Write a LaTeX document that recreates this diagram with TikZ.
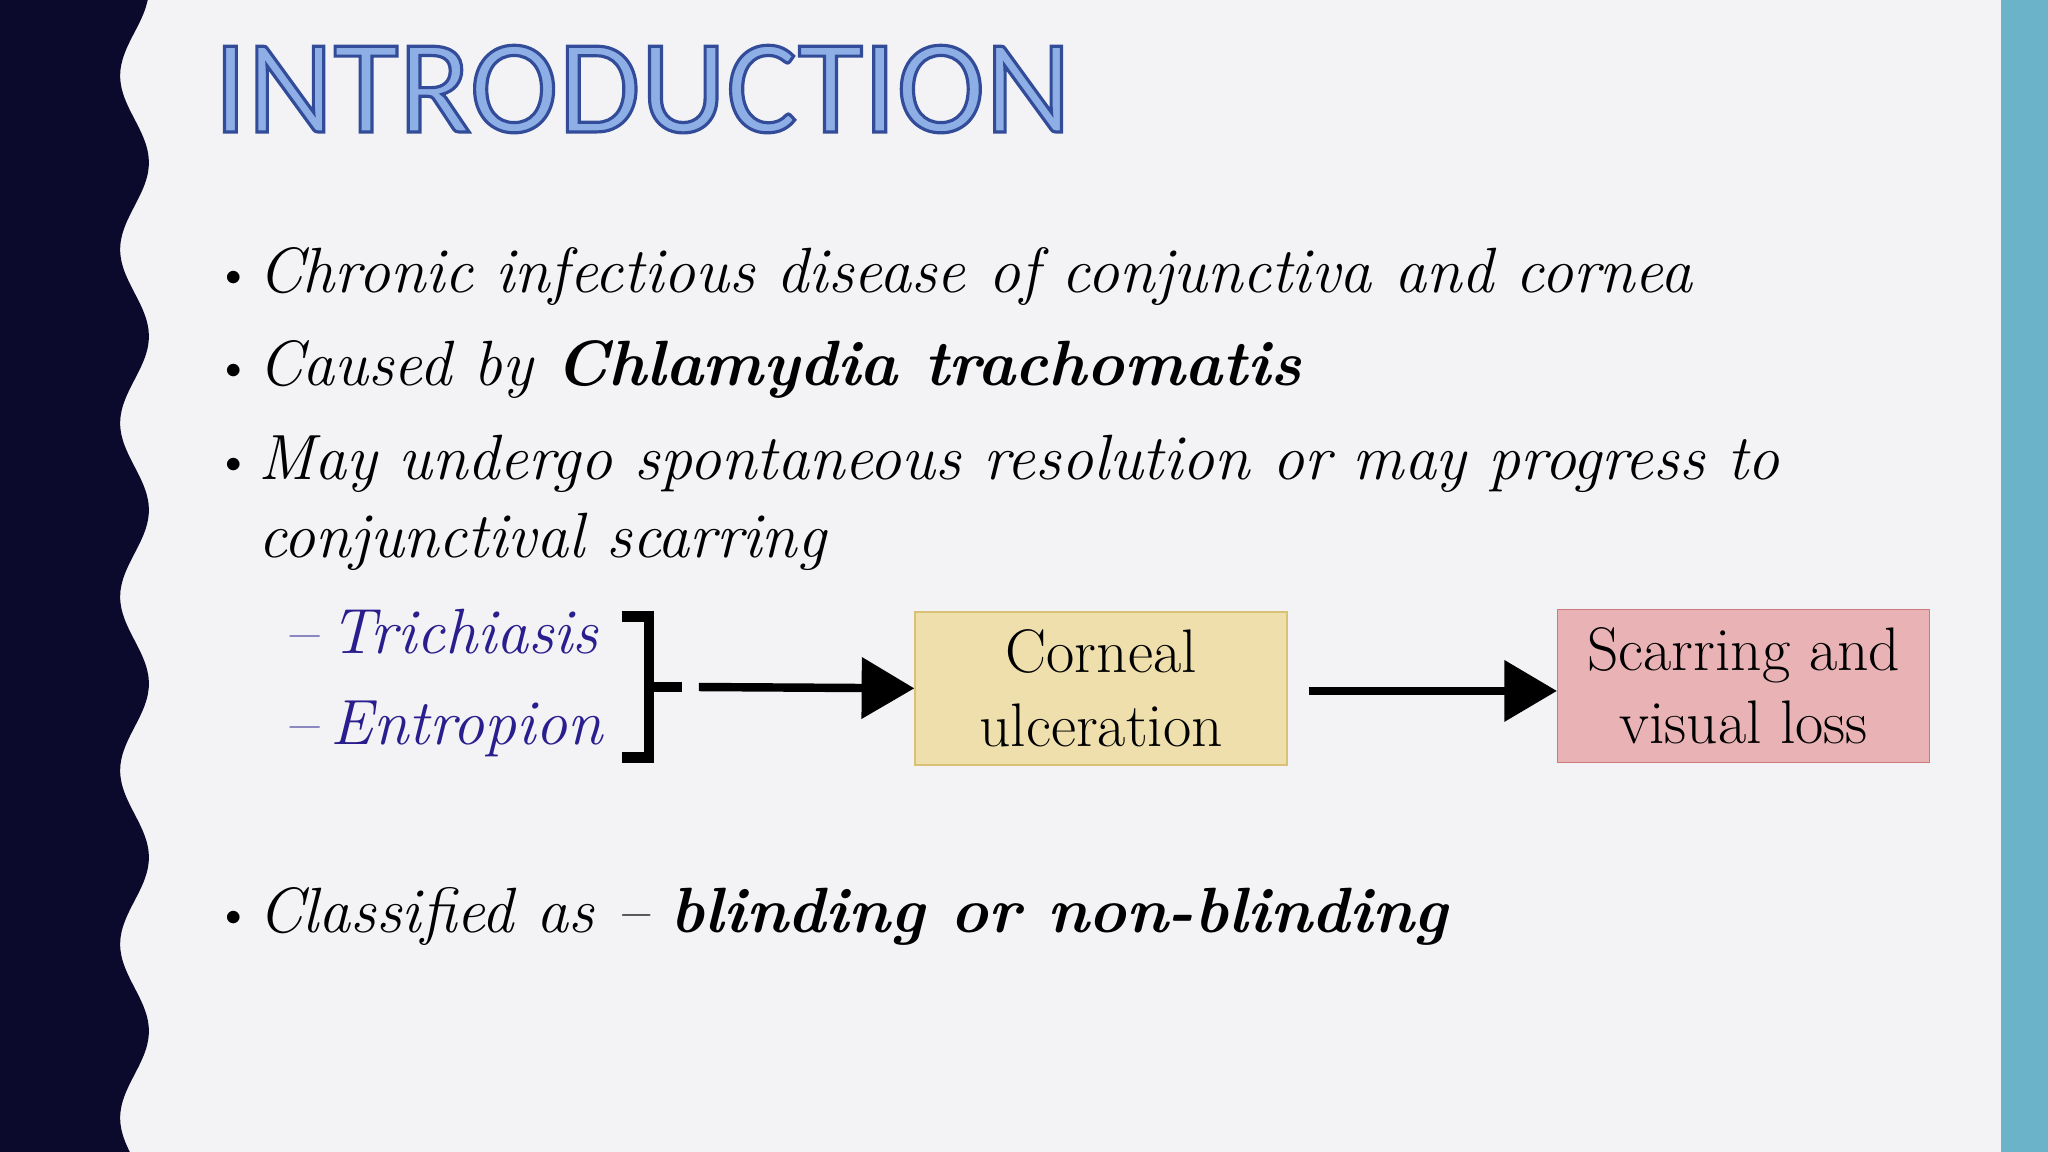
\documentclass[tikz,border=0pt]{standalone}
\usepackage{fontspec}
\newfontfamily\titlefont{Carlito}
\usetikzlibrary{positioning, arrows.meta}
\definecolor{slidebg}{HTML}{F3F3F5}
\definecolor{navyband}{HTML}{0C0A2C}
\definecolor{tealband}{HTML}{6AB3C8}
\definecolor{titleblue}{HTML}{8EAEE6}
\definecolor{subblue}{HTML}{2A1E8E}
\definecolor{ulcerfill}{HTML}{EEDFAC}
\definecolor{ulcerdraw}{HTML}{D9C276}
\definecolor{lossfill}{HTML}{E9B3B5}
\definecolor{lossdraw}{HTML}{CC7A7E}
\tikzset{
  body/.style={anchor=base west, inner sep=0pt, font=\fontsize{18.2}{22}\selectfont\itshape},
  bul/.style={anchor=base west, inner sep=0pt, font=\fontsize{16}{22}\selectfont},
  stage/.style={draw, minimum width=3.72cm, minimum height=1.53cm, align=center, font=\fontsize{17.5}{21}\selectfont},
  flow/.style={line width=2.4pt, -{Triangle[length=15pt, width=17pt]}},
}
\begin{document}
\begin{tikzpicture}[x=0.01306cm, y=-0.01306cm]
% background
\fill[slidebg] (0,0) rectangle (1568,882);
\useasboundingbox (0,0) rectangle (1568,882);
\fill[tealband] (1532,0) rectangle (1568,882);
\fill[navyband] (0,0) -- plot[domain=0:882, samples=120, smooth] ({103-11*cos(2.707*(\x+75))}, \x) -- (0,882) -- cycle;
% title
\node[anchor=base west, inner sep=0pt, text=titleblue] (title) at (163,101)
  {\titlefont\fontsize{38}{40}\selectfont\special{pdf:code q 0.2 0.3 0.6 RG 0.9 w 2 Tr}INTRODUCTION\special{pdf:code Q}};
% bullets
\foreach \yy/\nm in {224/b1, 295/b2, 367/b3, 714/b4}
  \node[bul] (\nm) at (163,\yy) {\textbullet};
\node[body] (t1) at (197,224) {Chronic infectious disease of conjunctiva and cornea};
\node[body] (t2) at (197,295) {Caused by \textbf{Chlamydia trachomatis}};
\node[body] (t3) at (197,367) {May undergo spontaneous resolution or may progress to};
\node[body] (t3b) at (197,427) {conjunctival scarring};
\node[body] (t4) at (197,714) {Classified as -- \textbf{blinding or non-blinding}};
% sub items
\node[body, text=subblue] (tri) at (222,500) {\upshape--\,\itshape Trichiasis};
\node[body, text=subblue] (ent) at (222,570) {\upshape--\,\itshape Entropion};
% bracket
\coordinate (brtop) at (476,472);
\coordinate (brbot) at (476,580);
\coordinate (brmid) at (522,526);
\draw[line width=3pt] (brtop) -- (497,472) -- (497,580) -- (brbot);
\draw[line width=3pt] (497,526) -- (brmid);
% stages
\node[stage, fill=ulcerfill, draw=ulcerdraw] (ulcer) at (843,527) {Corneal\\ulceration};
\node[stage, fill=lossfill, draw=lossdraw] (loss) at (1335,525) {Scarring and\\visual loss};
\draw[flow] (brmid) ++(13,0) coordinate (a0) (a0) -- (ulcer.west);
\draw[flow] (ulcer.east) ++(16,2) coordinate (a1) (a1) -- (loss.west |- a1);
\end{tikzpicture}
\end{document}
